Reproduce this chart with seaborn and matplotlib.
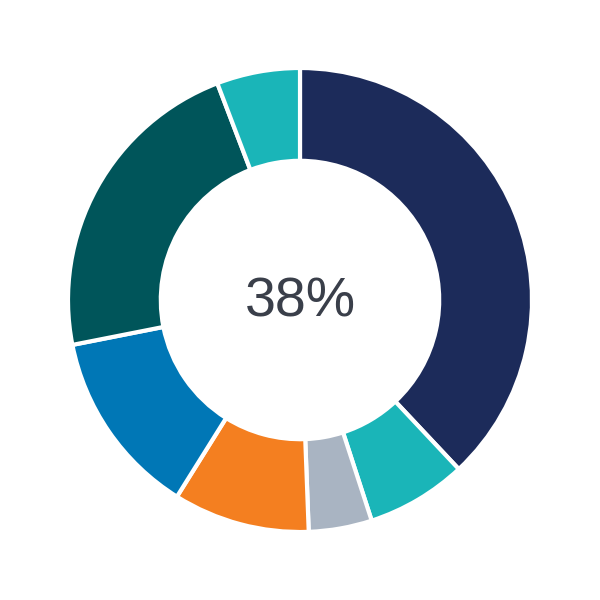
import matplotlib
matplotlib.use("Agg")
import matplotlib.pyplot as plt
import seaborn as sns

# Slice data, clockwise from the top
segments = ["A", "B", "C", "D", "E", "F", "G"]
shares = [38.0, 7.0, 4.4, 9.5, 13.0, 22.3, 5.8]
colors = ["#1c2b5a", "#1ab5b8", "#a9b4c2", "#f47f20", "#0077b6", "#00555a", "#1ab5b8"]
center_label = "38%"

sns.set_theme(style="white")
plt.rcParams['font.family'] = ['Liberation Sans', 'DejaVu Sans']

fig = plt.figure(figsize=(6, 6), dpi=100)
ax = fig.add_axes([0, 0, 1, 1])

ax.pie(shares, colors=colors, startangle=90, counterclock=False,
       wedgeprops=dict(width=0.4, edgecolor="white", linewidth=3))
ax.text(0, -0.01, center_label, ha="center", va="center", fontsize=40, color="#3a3f4a")

lim = 300 / 232
ax.set_xlim(-lim, lim)
ax.set_ylim(-lim, lim)
ax.set_aspect("equal")
ax.axis("off")

fig.savefig("out.png", dpi=100, facecolor="white")
